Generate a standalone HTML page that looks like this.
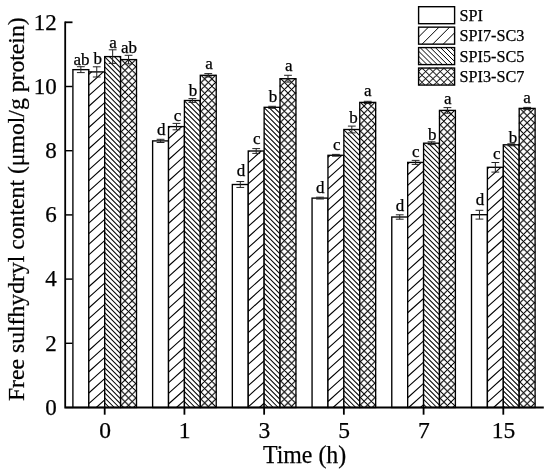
<!DOCTYPE html><html><head><meta charset="utf-8"><title>Free sulfhydryl content</title><style>html,body{margin:0;padding:0;background:#fff;}svg{display:block;}text{font-family:"Liberation Serif","Times New Roman",serif;fill:#000;stroke:#000;stroke-width:0.25px;}</style></head><body>
<svg width="550" height="472" viewBox="0 0 550 472">
<rect width="550" height="472" fill="#fff"/>
<rect x="72.90" y="69.65" width="15.90" height="337.85" fill="#fff"/>
<rect x="72.90" y="69.65" width="15.90" height="337.85" fill="none" stroke="#000" stroke-width="1.35"/>
<rect x="88.80" y="71.90" width="15.90" height="335.60" fill="#fff"/>
<path d="M88.80,74.38L91.56,71.90M88.80,85.00L103.36,71.90M88.80,95.62L104.70,81.31M88.80,106.24L104.70,91.93M88.80,116.86L104.70,102.55M88.80,127.48L104.70,113.17M88.80,138.10L104.70,123.79M88.80,148.72L104.70,134.41M88.80,159.34L104.70,145.03M88.80,169.96L104.70,155.65M88.80,180.58L104.70,166.27M88.80,191.20L104.70,176.89M88.80,201.82L104.70,187.51M88.80,212.44L104.70,198.13M88.80,223.06L104.70,208.75M88.80,233.68L104.70,219.37M88.80,244.30L104.70,229.99M88.80,254.92L104.70,240.61M88.80,265.54L104.70,251.23M88.80,276.16L104.70,261.85M88.80,286.78L104.70,272.47M88.80,297.40L104.70,283.09M88.80,308.02L104.70,293.71M88.80,318.64L104.70,304.33M88.80,329.26L104.70,314.95M88.80,339.88L104.70,325.57M88.80,350.50L104.70,336.19M88.80,361.12L104.70,346.81M88.80,371.74L104.70,357.43M88.80,382.36L104.70,368.05M88.80,392.98L104.70,378.67M88.80,403.60L104.70,389.29M96.27,407.50L104.70,399.91" stroke="#000" stroke-width="1.1" fill="none"/>
<rect x="88.80" y="71.90" width="15.90" height="335.60" fill="none" stroke="#000" stroke-width="1.35"/>
<rect x="104.70" y="56.60" width="15.90" height="350.90" fill="#fff"/>
<path d="M119.44,56.60L120.60,57.76M114.43,56.60L120.60,62.77M109.42,56.60L120.60,67.78M104.70,56.90L120.60,72.80M104.70,61.91L120.60,77.81M104.70,66.93L120.60,82.83M104.70,71.94L120.60,87.84M104.70,76.96L120.60,92.86M104.70,81.97L120.60,97.88M104.70,86.99L120.60,102.89M104.70,92.00L120.60,107.91M104.70,97.02L120.60,112.92M104.70,102.03L120.60,117.94M104.70,107.05L120.60,122.95M104.70,112.06L120.60,127.97M104.70,117.08L120.60,132.98M104.70,122.09L120.60,138.00M104.70,127.11L120.60,143.01M104.70,132.12L120.60,148.03M104.70,137.14L120.60,153.04M104.70,142.16L120.60,158.06M104.70,147.17L120.60,163.07M104.70,152.19L120.60,168.09M104.70,157.20L120.60,173.10M104.70,162.22L120.60,178.12M104.70,167.23L120.60,183.13M104.70,172.25L120.60,188.15M104.70,177.26L120.60,193.16M104.70,182.27L120.60,198.17M104.70,187.29L120.60,203.19M104.70,192.31L120.60,208.21M104.70,197.32L120.60,213.22M104.70,202.34L120.60,218.24M104.70,207.35L120.60,223.25M104.70,212.37L120.60,228.27M104.70,217.38L120.60,233.28M104.70,222.39L120.60,238.29M104.70,227.41L120.60,243.31M104.70,232.42L120.60,248.32M104.70,237.44L120.60,253.34M104.70,242.45L120.60,258.36M104.70,247.47L120.60,263.37M104.70,252.48L120.60,268.38M104.70,257.50L120.60,273.40M104.70,262.51L120.60,278.41M104.70,267.53L120.60,283.43M104.70,272.54L120.60,288.44M104.70,277.56L120.60,293.46M104.70,282.57L120.60,298.48M104.70,287.59L120.60,303.49M104.70,292.60L120.60,308.50M104.70,297.62L120.60,313.52M104.70,302.63L120.60,318.53M104.70,307.65L120.60,323.55M104.70,312.66L120.60,328.56M104.70,317.68L120.60,333.58M104.70,322.69L120.60,338.59M104.70,327.71L120.60,343.61M104.70,332.72L120.60,348.62M104.70,337.74L120.60,353.64M104.70,342.75L120.60,358.65M104.70,347.77L120.60,363.67M104.70,352.78L120.60,368.68M104.70,357.80L120.60,373.70M104.70,362.81L120.60,378.71M104.70,367.83L120.60,383.73M104.70,372.84L120.60,388.75M104.70,377.86L120.60,393.76M104.70,382.87L120.60,398.77M104.70,387.89L120.60,403.79M104.70,392.90L119.30,407.50M104.70,397.92L114.28,407.50M104.70,402.93L109.27,407.50" stroke="#000" stroke-width="1.05" fill="none"/>
<rect x="104.70" y="56.60" width="15.90" height="350.90" fill="none" stroke="#000" stroke-width="1.35"/>
<rect x="120.60" y="59.60" width="15.90" height="347.90" fill="#fff"/>
<path d="M120.60,60.35L121.35,59.60M120.60,67.55L128.55,59.60M120.60,74.75L135.75,59.60M120.60,81.95L136.50,66.05M120.60,89.15L136.50,73.25M120.60,96.35L136.50,80.45M120.60,103.55L136.50,87.65M120.60,110.75L136.50,94.85M120.60,117.95L136.50,102.05M120.60,125.15L136.50,109.25M120.60,132.35L136.50,116.45M120.60,139.55L136.50,123.65M120.60,146.75L136.50,130.85M120.60,153.95L136.50,138.05M120.60,161.15L136.50,145.25M120.60,168.35L136.50,152.45M120.60,175.55L136.50,159.65M120.60,182.75L136.50,166.85M120.60,189.95L136.50,174.05M120.60,197.15L136.50,181.25M120.60,204.35L136.50,188.45M120.60,211.55L136.50,195.65M120.60,218.75L136.50,202.85M120.60,225.95L136.50,210.05M120.60,233.15L136.50,217.25M120.60,240.35L136.50,224.45M120.60,247.55L136.50,231.65M120.60,254.75L136.50,238.85M120.60,261.95L136.50,246.05M120.60,269.15L136.50,253.25M120.60,276.35L136.50,260.45M120.60,283.55L136.50,267.65M120.60,290.75L136.50,274.85M120.60,297.95L136.50,282.05M120.60,305.15L136.50,289.25M120.60,312.35L136.50,296.45M120.60,319.55L136.50,303.65M120.60,326.75L136.50,310.85M120.60,333.95L136.50,318.05M120.60,341.15L136.50,325.25M120.60,348.35L136.50,332.45M120.60,355.55L136.50,339.65M120.60,362.75L136.50,346.85M120.60,369.95L136.50,354.05M120.60,377.15L136.50,361.25M120.60,384.35L136.50,368.45M120.60,391.55L136.50,375.65M120.60,398.75L136.50,382.85M120.60,405.95L136.50,390.05M126.25,407.50L136.50,397.25M133.45,407.50L136.50,404.45M135.75,59.60L136.50,60.35M128.55,59.60L136.50,67.55M121.35,59.60L136.50,74.75M120.60,66.05L136.50,81.95M120.60,73.25L136.50,89.15M120.60,80.45L136.50,96.35M120.60,87.65L136.50,103.55M120.60,94.85L136.50,110.75M120.60,102.05L136.50,117.95M120.60,109.25L136.50,125.15M120.60,116.45L136.50,132.35M120.60,123.65L136.50,139.55M120.60,130.85L136.50,146.75M120.60,138.05L136.50,153.95M120.60,145.25L136.50,161.15M120.60,152.45L136.50,168.35M120.60,159.65L136.50,175.55M120.60,166.85L136.50,182.75M120.60,174.05L136.50,189.95M120.60,181.25L136.50,197.15M120.60,188.45L136.50,204.35M120.60,195.65L136.50,211.55M120.60,202.85L136.50,218.75M120.60,210.05L136.50,225.95M120.60,217.25L136.50,233.15M120.60,224.45L136.50,240.35M120.60,231.65L136.50,247.55M120.60,238.85L136.50,254.75M120.60,246.05L136.50,261.95M120.60,253.25L136.50,269.15M120.60,260.45L136.50,276.35M120.60,267.65L136.50,283.55M120.60,274.85L136.50,290.75M120.60,282.05L136.50,297.95M120.60,289.25L136.50,305.15M120.60,296.45L136.50,312.35M120.60,303.65L136.50,319.55M120.60,310.85L136.50,326.75M120.60,318.05L136.50,333.95M120.60,325.25L136.50,341.15M120.60,332.45L136.50,348.35M120.60,339.65L136.50,355.55M120.60,346.85L136.50,362.75M120.60,354.05L136.50,369.95M120.60,361.25L136.50,377.15M120.60,368.45L136.50,384.35M120.60,375.65L136.50,391.55M120.60,382.85L136.50,398.75M120.60,390.05L136.50,405.95M120.60,397.25L130.85,407.50M120.60,404.45L123.65,407.50" stroke="#000" stroke-opacity="0.35" stroke-width="1.8" fill="none"/>
<path d="M120.60,60.35L121.35,59.60M120.60,67.55L128.55,59.60M120.60,74.75L135.75,59.60M120.60,81.95L136.50,66.05M120.60,89.15L136.50,73.25M120.60,96.35L136.50,80.45M120.60,103.55L136.50,87.65M120.60,110.75L136.50,94.85M120.60,117.95L136.50,102.05M120.60,125.15L136.50,109.25M120.60,132.35L136.50,116.45M120.60,139.55L136.50,123.65M120.60,146.75L136.50,130.85M120.60,153.95L136.50,138.05M120.60,161.15L136.50,145.25M120.60,168.35L136.50,152.45M120.60,175.55L136.50,159.65M120.60,182.75L136.50,166.85M120.60,189.95L136.50,174.05M120.60,197.15L136.50,181.25M120.60,204.35L136.50,188.45M120.60,211.55L136.50,195.65M120.60,218.75L136.50,202.85M120.60,225.95L136.50,210.05M120.60,233.15L136.50,217.25M120.60,240.35L136.50,224.45M120.60,247.55L136.50,231.65M120.60,254.75L136.50,238.85M120.60,261.95L136.50,246.05M120.60,269.15L136.50,253.25M120.60,276.35L136.50,260.45M120.60,283.55L136.50,267.65M120.60,290.75L136.50,274.85M120.60,297.95L136.50,282.05M120.60,305.15L136.50,289.25M120.60,312.35L136.50,296.45M120.60,319.55L136.50,303.65M120.60,326.75L136.50,310.85M120.60,333.95L136.50,318.05M120.60,341.15L136.50,325.25M120.60,348.35L136.50,332.45M120.60,355.55L136.50,339.65M120.60,362.75L136.50,346.85M120.60,369.95L136.50,354.05M120.60,377.15L136.50,361.25M120.60,384.35L136.50,368.45M120.60,391.55L136.50,375.65M120.60,398.75L136.50,382.85M120.60,405.95L136.50,390.05M126.25,407.50L136.50,397.25M133.45,407.50L136.50,404.45M135.75,59.60L136.50,60.35M128.55,59.60L136.50,67.55M121.35,59.60L136.50,74.75M120.60,66.05L136.50,81.95M120.60,73.25L136.50,89.15M120.60,80.45L136.50,96.35M120.60,87.65L136.50,103.55M120.60,94.85L136.50,110.75M120.60,102.05L136.50,117.95M120.60,109.25L136.50,125.15M120.60,116.45L136.50,132.35M120.60,123.65L136.50,139.55M120.60,130.85L136.50,146.75M120.60,138.05L136.50,153.95M120.60,145.25L136.50,161.15M120.60,152.45L136.50,168.35M120.60,159.65L136.50,175.55M120.60,166.85L136.50,182.75M120.60,174.05L136.50,189.95M120.60,181.25L136.50,197.15M120.60,188.45L136.50,204.35M120.60,195.65L136.50,211.55M120.60,202.85L136.50,218.75M120.60,210.05L136.50,225.95M120.60,217.25L136.50,233.15M120.60,224.45L136.50,240.35M120.60,231.65L136.50,247.55M120.60,238.85L136.50,254.75M120.60,246.05L136.50,261.95M120.60,253.25L136.50,269.15M120.60,260.45L136.50,276.35M120.60,267.65L136.50,283.55M120.60,274.85L136.50,290.75M120.60,282.05L136.50,297.95M120.60,289.25L136.50,305.15M120.60,296.45L136.50,312.35M120.60,303.65L136.50,319.55M120.60,310.85L136.50,326.75M120.60,318.05L136.50,333.95M120.60,325.25L136.50,341.15M120.60,332.45L136.50,348.35M120.60,339.65L136.50,355.55M120.60,346.85L136.50,362.75M120.60,354.05L136.50,369.95M120.60,361.25L136.50,377.15M120.60,368.45L136.50,384.35M120.60,375.65L136.50,391.55M120.60,382.85L136.50,398.75M120.60,390.05L136.50,405.95M120.60,397.25L130.85,407.50M120.60,404.45L123.65,407.50" stroke="#000" stroke-width="0.95" fill="none"/>
<rect x="120.60" y="59.60" width="15.90" height="347.90" fill="none" stroke="#000" stroke-width="1.35"/>
<rect x="152.62" y="140.90" width="15.90" height="266.60" fill="#fff"/>
<rect x="152.62" y="140.90" width="15.90" height="266.60" fill="none" stroke="#000" stroke-width="1.35"/>
<rect x="168.52" y="126.60" width="15.90" height="280.90" fill="#fff"/>
<path d="M168.52,127.91L169.98,126.60M168.52,138.53L181.78,126.60M168.52,149.15L184.42,134.84M168.52,159.77L184.42,145.46M168.52,170.39L184.42,156.08M168.52,181.01L184.42,166.70M168.52,191.63L184.42,177.32M168.52,202.25L184.42,187.94M168.52,212.87L184.42,198.56M168.52,223.49L184.42,209.18M168.52,234.11L184.42,219.80M168.52,244.73L184.42,230.42M168.52,255.35L184.42,241.04M168.52,265.97L184.42,251.66M168.52,276.59L184.42,262.28M168.52,287.21L184.42,272.90M168.52,297.83L184.42,283.52M168.52,308.45L184.42,294.14M168.52,319.07L184.42,304.76M168.52,329.69L184.42,315.38M168.52,340.31L184.42,326.00M168.52,350.93L184.42,336.62M168.52,361.55L184.42,347.24M168.52,372.17L184.42,357.86M168.52,382.79L184.42,368.48M168.52,393.41L184.42,379.10M168.52,404.03L184.42,389.72M176.47,407.50L184.42,400.34" stroke="#000" stroke-width="1.1" fill="none"/>
<rect x="168.52" y="126.60" width="15.90" height="280.90" fill="none" stroke="#000" stroke-width="1.35"/>
<rect x="184.42" y="100.50" width="15.90" height="307.00" fill="#fff"/>
<path d="M199.17,100.50L200.32,101.66M194.15,100.50L200.32,106.67M189.14,100.50L200.32,111.69M184.42,100.80L200.32,116.70M184.42,105.81L200.32,121.72M184.42,110.83L200.32,126.73M184.42,115.84L200.32,131.75M184.42,120.86L200.32,136.76M184.42,125.88L200.32,141.78M184.42,130.89L200.32,146.79M184.42,135.91L200.32,151.81M184.42,140.92L200.32,156.82M184.42,145.94L200.32,161.84M184.42,150.95L200.32,166.85M184.42,155.97L200.32,171.87M184.42,160.98L200.32,176.88M184.42,166.00L200.32,181.90M184.42,171.01L200.32,186.91M184.42,176.02L200.32,191.92M184.42,181.04L200.32,196.94M184.42,186.06L200.32,201.96M184.42,191.07L200.32,206.97M184.42,196.08L200.32,211.98M184.42,201.10L200.32,217.00M184.42,206.12L200.32,222.02M184.42,211.13L200.32,227.03M184.42,216.14L200.32,232.04M184.42,221.16L200.32,237.06M184.42,226.17L200.32,242.07M184.42,231.19L200.32,247.09M184.42,236.20L200.32,252.10M184.42,241.22L200.32,257.12M184.42,246.24L200.32,262.13M184.42,251.25L200.32,267.15M184.42,256.26L200.32,272.16M184.42,261.28L200.32,277.18M184.42,266.29L200.32,282.19M184.42,271.31L200.32,287.21M184.42,276.32L200.32,292.23M184.42,281.34L200.32,297.24M184.42,286.35L200.32,302.25M184.42,291.37L200.32,307.27M184.42,296.38L200.32,312.28M184.42,301.40L200.32,317.30M184.42,306.41L200.32,322.31M184.42,311.43L200.32,327.33M184.42,316.44L200.32,332.35M184.42,321.46L200.32,337.36M184.42,326.47L200.32,342.38M184.42,331.49L200.32,347.39M184.42,336.50L200.32,352.40M184.42,341.52L200.32,357.42M184.42,346.53L200.32,362.43M184.42,351.55L200.32,367.45M184.42,356.56L200.32,372.47M184.42,361.58L200.32,377.48M184.42,366.59L200.32,382.50M184.42,371.61L200.32,387.51M184.42,376.62L200.32,392.52M184.42,381.64L200.32,397.54M184.42,386.65L200.32,402.55M184.42,391.67L200.25,407.50M184.42,396.69L195.24,407.50M184.42,401.70L190.22,407.50M184.42,406.71L185.21,407.50" stroke="#000" stroke-width="1.05" fill="none"/>
<rect x="184.42" y="100.50" width="15.90" height="307.00" fill="none" stroke="#000" stroke-width="1.35"/>
<rect x="200.32" y="75.30" width="15.90" height="332.20" fill="#fff"/>
<path d="M200.32,76.05L201.07,75.30M200.32,83.25L208.27,75.30M200.32,90.45L215.47,75.30M200.32,97.65L216.22,81.75M200.32,104.85L216.22,88.95M200.32,112.05L216.22,96.15M200.32,119.25L216.22,103.35M200.32,126.45L216.22,110.55M200.32,133.65L216.22,117.75M200.32,140.85L216.22,124.95M200.32,148.05L216.22,132.15M200.32,155.25L216.22,139.35M200.32,162.45L216.22,146.55M200.32,169.65L216.22,153.75M200.32,176.85L216.22,160.95M200.32,184.05L216.22,168.15M200.32,191.25L216.22,175.35M200.32,198.45L216.22,182.55M200.32,205.65L216.22,189.75M200.32,212.85L216.22,196.95M200.32,220.05L216.22,204.15M200.32,227.25L216.22,211.35M200.32,234.45L216.22,218.55M200.32,241.65L216.22,225.75M200.32,248.85L216.22,232.95M200.32,256.05L216.22,240.15M200.32,263.25L216.22,247.35M200.32,270.45L216.22,254.55M200.32,277.65L216.22,261.75M200.32,284.85L216.22,268.95M200.32,292.05L216.22,276.15M200.32,299.25L216.22,283.35M200.32,306.45L216.22,290.55M200.32,313.65L216.22,297.75M200.32,320.85L216.22,304.95M200.32,328.05L216.22,312.15M200.32,335.25L216.22,319.35M200.32,342.45L216.22,326.55M200.32,349.65L216.22,333.75M200.32,356.85L216.22,340.95M200.32,364.05L216.22,348.15M200.32,371.25L216.22,355.35M200.32,378.45L216.22,362.55M200.32,385.65L216.22,369.75M200.32,392.85L216.22,376.95M200.32,400.05L216.22,384.15M200.32,407.25L216.22,391.35M207.27,407.50L216.22,398.55M214.47,407.50L216.22,405.75M215.47,75.30L216.22,76.05M208.27,75.30L216.22,83.25M201.07,75.30L216.22,90.45M200.32,81.75L216.22,97.65M200.32,88.95L216.22,104.85M200.32,96.15L216.22,112.05M200.32,103.35L216.22,119.25M200.32,110.55L216.22,126.45M200.32,117.75L216.22,133.65M200.32,124.95L216.22,140.85M200.32,132.15L216.22,148.05M200.32,139.35L216.22,155.25M200.32,146.55L216.22,162.45M200.32,153.75L216.22,169.65M200.32,160.95L216.22,176.85M200.32,168.15L216.22,184.05M200.32,175.35L216.22,191.25M200.32,182.55L216.22,198.45M200.32,189.75L216.22,205.65M200.32,196.95L216.22,212.85M200.32,204.15L216.22,220.05M200.32,211.35L216.22,227.25M200.32,218.55L216.22,234.45M200.32,225.75L216.22,241.65M200.32,232.95L216.22,248.85M200.32,240.15L216.22,256.05M200.32,247.35L216.22,263.25M200.32,254.55L216.22,270.45M200.32,261.75L216.22,277.65M200.32,268.95L216.22,284.85M200.32,276.15L216.22,292.05M200.32,283.35L216.22,299.25M200.32,290.55L216.22,306.45M200.32,297.75L216.22,313.65M200.32,304.95L216.22,320.85M200.32,312.15L216.22,328.05M200.32,319.35L216.22,335.25M200.32,326.55L216.22,342.45M200.32,333.75L216.22,349.65M200.32,340.95L216.22,356.85M200.32,348.15L216.22,364.05M200.32,355.35L216.22,371.25M200.32,362.55L216.22,378.45M200.32,369.75L216.22,385.65M200.32,376.95L216.22,392.85M200.32,384.15L216.22,400.05M200.32,391.35L216.22,407.25M200.32,398.55L209.27,407.50M200.32,405.75L202.07,407.50" stroke="#000" stroke-opacity="0.35" stroke-width="1.8" fill="none"/>
<path d="M200.32,76.05L201.07,75.30M200.32,83.25L208.27,75.30M200.32,90.45L215.47,75.30M200.32,97.65L216.22,81.75M200.32,104.85L216.22,88.95M200.32,112.05L216.22,96.15M200.32,119.25L216.22,103.35M200.32,126.45L216.22,110.55M200.32,133.65L216.22,117.75M200.32,140.85L216.22,124.95M200.32,148.05L216.22,132.15M200.32,155.25L216.22,139.35M200.32,162.45L216.22,146.55M200.32,169.65L216.22,153.75M200.32,176.85L216.22,160.95M200.32,184.05L216.22,168.15M200.32,191.25L216.22,175.35M200.32,198.45L216.22,182.55M200.32,205.65L216.22,189.75M200.32,212.85L216.22,196.95M200.32,220.05L216.22,204.15M200.32,227.25L216.22,211.35M200.32,234.45L216.22,218.55M200.32,241.65L216.22,225.75M200.32,248.85L216.22,232.95M200.32,256.05L216.22,240.15M200.32,263.25L216.22,247.35M200.32,270.45L216.22,254.55M200.32,277.65L216.22,261.75M200.32,284.85L216.22,268.95M200.32,292.05L216.22,276.15M200.32,299.25L216.22,283.35M200.32,306.45L216.22,290.55M200.32,313.65L216.22,297.75M200.32,320.85L216.22,304.95M200.32,328.05L216.22,312.15M200.32,335.25L216.22,319.35M200.32,342.45L216.22,326.55M200.32,349.65L216.22,333.75M200.32,356.85L216.22,340.95M200.32,364.05L216.22,348.15M200.32,371.25L216.22,355.35M200.32,378.45L216.22,362.55M200.32,385.65L216.22,369.75M200.32,392.85L216.22,376.95M200.32,400.05L216.22,384.15M200.32,407.25L216.22,391.35M207.27,407.50L216.22,398.55M214.47,407.50L216.22,405.75M215.47,75.30L216.22,76.05M208.27,75.30L216.22,83.25M201.07,75.30L216.22,90.45M200.32,81.75L216.22,97.65M200.32,88.95L216.22,104.85M200.32,96.15L216.22,112.05M200.32,103.35L216.22,119.25M200.32,110.55L216.22,126.45M200.32,117.75L216.22,133.65M200.32,124.95L216.22,140.85M200.32,132.15L216.22,148.05M200.32,139.35L216.22,155.25M200.32,146.55L216.22,162.45M200.32,153.75L216.22,169.65M200.32,160.95L216.22,176.85M200.32,168.15L216.22,184.05M200.32,175.35L216.22,191.25M200.32,182.55L216.22,198.45M200.32,189.75L216.22,205.65M200.32,196.95L216.22,212.85M200.32,204.15L216.22,220.05M200.32,211.35L216.22,227.25M200.32,218.55L216.22,234.45M200.32,225.75L216.22,241.65M200.32,232.95L216.22,248.85M200.32,240.15L216.22,256.05M200.32,247.35L216.22,263.25M200.32,254.55L216.22,270.45M200.32,261.75L216.22,277.65M200.32,268.95L216.22,284.85M200.32,276.15L216.22,292.05M200.32,283.35L216.22,299.25M200.32,290.55L216.22,306.45M200.32,297.75L216.22,313.65M200.32,304.95L216.22,320.85M200.32,312.15L216.22,328.05M200.32,319.35L216.22,335.25M200.32,326.55L216.22,342.45M200.32,333.75L216.22,349.65M200.32,340.95L216.22,356.85M200.32,348.15L216.22,364.05M200.32,355.35L216.22,371.25M200.32,362.55L216.22,378.45M200.32,369.75L216.22,385.65M200.32,376.95L216.22,392.85M200.32,384.15L216.22,400.05M200.32,391.35L216.22,407.25M200.32,398.55L209.27,407.50M200.32,405.75L202.07,407.50" stroke="#000" stroke-width="0.95" fill="none"/>
<rect x="200.32" y="75.30" width="15.90" height="332.20" fill="none" stroke="#000" stroke-width="1.35"/>
<rect x="232.34" y="184.50" width="15.90" height="223.00" fill="#fff"/>
<rect x="232.34" y="184.50" width="15.90" height="223.00" fill="none" stroke="#000" stroke-width="1.35"/>
<rect x="248.24" y="151.00" width="15.90" height="256.50" fill="#fff"/>
<path d="M248.24,152.04L249.40,151.00M248.24,162.66L261.20,151.00M248.24,173.28L264.14,158.97M248.24,183.90L264.14,169.59M248.24,194.52L264.14,180.21M248.24,205.14L264.14,190.83M248.24,215.76L264.14,201.45M248.24,226.38L264.14,212.07M248.24,237.00L264.14,222.69M248.24,247.62L264.14,233.31M248.24,258.24L264.14,243.93M248.24,268.86L264.14,254.55M248.24,279.48L264.14,265.17M248.24,290.10L264.14,275.79M248.24,300.72L264.14,286.41M248.24,311.34L264.14,297.03M248.24,321.96L264.14,307.65M248.24,332.58L264.14,318.27M248.24,343.20L264.14,328.89M248.24,353.82L264.14,339.51M248.24,364.44L264.14,350.13M248.24,375.06L264.14,360.75M248.24,385.68L264.14,371.37M248.24,396.30L264.14,381.99M248.24,406.92L264.14,392.61M259.40,407.50L264.14,403.23" stroke="#000" stroke-width="1.1" fill="none"/>
<rect x="248.24" y="151.00" width="15.90" height="256.50" fill="none" stroke="#000" stroke-width="1.35"/>
<rect x="264.14" y="107.30" width="15.90" height="300.20" fill="#fff"/>
<path d="M278.88,107.30L280.04,108.45M273.87,107.30L280.04,113.47M268.86,107.30L280.04,118.48M264.14,107.60L280.04,123.50M264.14,112.61L280.04,128.51M264.14,117.63L280.04,133.53M264.14,122.64L280.04,138.54M264.14,127.66L280.04,143.56M264.14,132.67L280.04,148.57M264.14,137.69L280.04,153.59M264.14,142.70L280.04,158.60M264.14,147.72L280.04,163.62M264.14,152.73L280.04,168.63M264.14,157.75L280.04,173.65M264.14,162.76L280.04,178.66M264.14,167.78L280.04,183.68M264.14,172.79L280.04,188.69M264.14,177.81L280.04,193.71M264.14,182.82L280.04,198.72M264.14,187.84L280.04,203.74M264.14,192.85L280.04,208.75M264.14,197.87L280.04,213.77M264.14,202.88L280.04,218.78M264.14,207.90L280.04,223.80M264.14,212.91L280.04,228.81M264.14,217.93L280.04,233.83M264.14,222.94L280.04,238.84M264.14,227.96L280.04,243.86M264.14,232.97L280.04,248.87M264.14,237.99L280.04,253.89M264.14,243.00L280.04,258.90M264.14,248.02L280.04,263.92M264.14,253.03L280.04,268.93M264.14,258.05L280.04,273.95M264.14,263.06L280.04,278.96M264.14,268.08L280.04,283.98M264.14,273.09L280.04,288.99M264.14,278.11L280.04,294.01M264.14,283.12L280.04,299.02M264.14,288.14L280.04,304.04M264.14,293.15L280.04,309.05M264.14,298.17L280.04,314.07M264.14,303.18L280.04,319.08M264.14,308.20L280.04,324.10M264.14,313.21L280.04,329.11M264.14,318.23L280.04,334.13M264.14,323.25L280.04,339.14M264.14,328.26L280.04,344.16M264.14,333.27L280.04,349.17M264.14,338.29L280.04,354.19M264.14,343.30L280.04,359.20M264.14,348.32L280.04,364.22M264.14,353.33L280.04,369.23M264.14,358.35L280.04,374.25M264.14,363.37L280.04,379.26M264.14,368.38L280.04,384.28M264.14,373.39L280.04,389.29M264.14,378.41L280.04,394.31M264.14,383.42L280.04,399.32M264.14,388.44L280.04,404.34M264.14,393.45L278.19,407.50M264.14,398.47L273.17,407.50M264.14,403.49L268.15,407.50" stroke="#000" stroke-width="1.05" fill="none"/>
<rect x="264.14" y="107.30" width="15.90" height="300.20" fill="none" stroke="#000" stroke-width="1.35"/>
<rect x="280.04" y="78.70" width="15.90" height="328.80" fill="#fff"/>
<path d="M280.04,79.45L280.79,78.70M280.04,86.65L287.99,78.70M280.04,93.85L295.19,78.70M280.04,101.05L295.94,85.15M280.04,108.25L295.94,92.35M280.04,115.45L295.94,99.55M280.04,122.65L295.94,106.75M280.04,129.85L295.94,113.95M280.04,137.05L295.94,121.15M280.04,144.25L295.94,128.35M280.04,151.45L295.94,135.55M280.04,158.65L295.94,142.75M280.04,165.85L295.94,149.95M280.04,173.05L295.94,157.15M280.04,180.25L295.94,164.35M280.04,187.45L295.94,171.55M280.04,194.65L295.94,178.75M280.04,201.85L295.94,185.95M280.04,209.05L295.94,193.15M280.04,216.25L295.94,200.35M280.04,223.45L295.94,207.55M280.04,230.65L295.94,214.75M280.04,237.85L295.94,221.95M280.04,245.05L295.94,229.15M280.04,252.25L295.94,236.35M280.04,259.45L295.94,243.55M280.04,266.65L295.94,250.75M280.04,273.85L295.94,257.95M280.04,281.05L295.94,265.15M280.04,288.25L295.94,272.35M280.04,295.45L295.94,279.55M280.04,302.65L295.94,286.75M280.04,309.85L295.94,293.95M280.04,317.05L295.94,301.15M280.04,324.25L295.94,308.35M280.04,331.45L295.94,315.55M280.04,338.65L295.94,322.75M280.04,345.85L295.94,329.95M280.04,353.05L295.94,337.15M280.04,360.25L295.94,344.35M280.04,367.45L295.94,351.55M280.04,374.65L295.94,358.75M280.04,381.85L295.94,365.95M280.04,389.05L295.94,373.15M280.04,396.25L295.94,380.35M280.04,403.45L295.94,387.55M283.19,407.50L295.94,394.75M290.39,407.50L295.94,401.95M295.19,78.70L295.94,79.45M287.99,78.70L295.94,86.65M280.79,78.70L295.94,93.85M280.04,85.15L295.94,101.05M280.04,92.35L295.94,108.25M280.04,99.55L295.94,115.45M280.04,106.75L295.94,122.65M280.04,113.95L295.94,129.85M280.04,121.15L295.94,137.05M280.04,128.35L295.94,144.25M280.04,135.55L295.94,151.45M280.04,142.75L295.94,158.65M280.04,149.95L295.94,165.85M280.04,157.15L295.94,173.05M280.04,164.35L295.94,180.25M280.04,171.55L295.94,187.45M280.04,178.75L295.94,194.65M280.04,185.95L295.94,201.85M280.04,193.15L295.94,209.05M280.04,200.35L295.94,216.25M280.04,207.55L295.94,223.45M280.04,214.75L295.94,230.65M280.04,221.95L295.94,237.85M280.04,229.15L295.94,245.05M280.04,236.35L295.94,252.25M280.04,243.55L295.94,259.45M280.04,250.75L295.94,266.65M280.04,257.95L295.94,273.85M280.04,265.15L295.94,281.05M280.04,272.35L295.94,288.25M280.04,279.55L295.94,295.45M280.04,286.75L295.94,302.65M280.04,293.95L295.94,309.85M280.04,301.15L295.94,317.05M280.04,308.35L295.94,324.25M280.04,315.55L295.94,331.45M280.04,322.75L295.94,338.65M280.04,329.95L295.94,345.85M280.04,337.15L295.94,353.05M280.04,344.35L295.94,360.25M280.04,351.55L295.94,367.45M280.04,358.75L295.94,374.65M280.04,365.95L295.94,381.85M280.04,373.15L295.94,389.05M280.04,380.35L295.94,396.25M280.04,387.55L295.94,403.45M280.04,394.75L292.79,407.50M280.04,401.95L285.59,407.50" stroke="#000" stroke-opacity="0.35" stroke-width="1.8" fill="none"/>
<path d="M280.04,79.45L280.79,78.70M280.04,86.65L287.99,78.70M280.04,93.85L295.19,78.70M280.04,101.05L295.94,85.15M280.04,108.25L295.94,92.35M280.04,115.45L295.94,99.55M280.04,122.65L295.94,106.75M280.04,129.85L295.94,113.95M280.04,137.05L295.94,121.15M280.04,144.25L295.94,128.35M280.04,151.45L295.94,135.55M280.04,158.65L295.94,142.75M280.04,165.85L295.94,149.95M280.04,173.05L295.94,157.15M280.04,180.25L295.94,164.35M280.04,187.45L295.94,171.55M280.04,194.65L295.94,178.75M280.04,201.85L295.94,185.95M280.04,209.05L295.94,193.15M280.04,216.25L295.94,200.35M280.04,223.45L295.94,207.55M280.04,230.65L295.94,214.75M280.04,237.85L295.94,221.95M280.04,245.05L295.94,229.15M280.04,252.25L295.94,236.35M280.04,259.45L295.94,243.55M280.04,266.65L295.94,250.75M280.04,273.85L295.94,257.95M280.04,281.05L295.94,265.15M280.04,288.25L295.94,272.35M280.04,295.45L295.94,279.55M280.04,302.65L295.94,286.75M280.04,309.85L295.94,293.95M280.04,317.05L295.94,301.15M280.04,324.25L295.94,308.35M280.04,331.45L295.94,315.55M280.04,338.65L295.94,322.75M280.04,345.85L295.94,329.95M280.04,353.05L295.94,337.15M280.04,360.25L295.94,344.35M280.04,367.45L295.94,351.55M280.04,374.65L295.94,358.75M280.04,381.85L295.94,365.95M280.04,389.05L295.94,373.15M280.04,396.25L295.94,380.35M280.04,403.45L295.94,387.55M283.19,407.50L295.94,394.75M290.39,407.50L295.94,401.95M295.19,78.70L295.94,79.45M287.99,78.70L295.94,86.65M280.79,78.70L295.94,93.85M280.04,85.15L295.94,101.05M280.04,92.35L295.94,108.25M280.04,99.55L295.94,115.45M280.04,106.75L295.94,122.65M280.04,113.95L295.94,129.85M280.04,121.15L295.94,137.05M280.04,128.35L295.94,144.25M280.04,135.55L295.94,151.45M280.04,142.75L295.94,158.65M280.04,149.95L295.94,165.85M280.04,157.15L295.94,173.05M280.04,164.35L295.94,180.25M280.04,171.55L295.94,187.45M280.04,178.75L295.94,194.65M280.04,185.95L295.94,201.85M280.04,193.15L295.94,209.05M280.04,200.35L295.94,216.25M280.04,207.55L295.94,223.45M280.04,214.75L295.94,230.65M280.04,221.95L295.94,237.85M280.04,229.15L295.94,245.05M280.04,236.35L295.94,252.25M280.04,243.55L295.94,259.45M280.04,250.75L295.94,266.65M280.04,257.95L295.94,273.85M280.04,265.15L295.94,281.05M280.04,272.35L295.94,288.25M280.04,279.55L295.94,295.45M280.04,286.75L295.94,302.65M280.04,293.95L295.94,309.85M280.04,301.15L295.94,317.05M280.04,308.35L295.94,324.25M280.04,315.55L295.94,331.45M280.04,322.75L295.94,338.65M280.04,329.95L295.94,345.85M280.04,337.15L295.94,353.05M280.04,344.35L295.94,360.25M280.04,351.55L295.94,367.45M280.04,358.75L295.94,374.65M280.04,365.95L295.94,381.85M280.04,373.15L295.94,389.05M280.04,380.35L295.94,396.25M280.04,387.55L295.94,403.45M280.04,394.75L292.79,407.50M280.04,401.95L285.59,407.50" stroke="#000" stroke-width="0.95" fill="none"/>
<rect x="280.04" y="78.70" width="15.90" height="328.80" fill="none" stroke="#000" stroke-width="1.35"/>
<rect x="312.06" y="198.10" width="15.90" height="209.40" fill="#fff"/>
<rect x="312.06" y="198.10" width="15.90" height="209.40" fill="none" stroke="#000" stroke-width="1.35"/>
<rect x="327.96" y="155.30" width="15.90" height="252.20" fill="#fff"/>
<path d="M327.96,157.22L330.09,155.30M327.96,167.84L341.89,155.30M327.96,178.46L343.86,164.15M327.96,189.08L343.86,174.77M327.96,199.70L343.86,185.39M327.96,210.32L343.86,196.01M327.96,220.94L343.86,206.63M327.96,231.56L343.86,217.25M327.96,242.18L343.86,227.87M327.96,252.80L343.86,238.49M327.96,263.42L343.86,249.11M327.96,274.04L343.86,259.73M327.96,284.66L343.86,270.35M327.96,295.28L343.86,280.97M327.96,305.90L343.86,291.59M327.96,316.52L343.86,302.21M327.96,327.14L343.86,312.83M327.96,337.76L343.86,323.45M327.96,348.38L343.86,334.07M327.96,359.00L343.86,344.69M327.96,369.62L343.86,355.31M327.96,380.24L343.86,365.93M327.96,390.86L343.86,376.55M327.96,401.48L343.86,387.17M333.07,407.50L343.86,397.79" stroke="#000" stroke-width="1.1" fill="none"/>
<rect x="327.96" y="155.30" width="15.90" height="252.20" fill="none" stroke="#000" stroke-width="1.35"/>
<rect x="343.86" y="129.50" width="15.90" height="278.00" fill="#fff"/>
<path d="M358.61,129.50L359.76,130.65M353.59,129.50L359.76,135.67M348.57,129.50L359.76,140.69M343.86,129.80L359.76,145.70M343.86,134.81L359.76,150.71M343.86,139.83L359.76,155.73M343.86,144.84L359.76,160.74M343.86,149.86L359.76,165.76M343.86,154.88L359.76,170.77M343.86,159.89L359.76,175.79M343.86,164.91L359.76,180.80M343.86,169.92L359.76,185.82M343.86,174.94L359.76,190.83M343.86,179.95L359.76,195.85M343.86,184.97L359.76,200.86M343.86,189.98L359.76,205.88M343.86,195.00L359.76,210.89M343.86,200.01L359.76,215.91M343.86,205.03L359.76,220.92M343.86,210.04L359.76,225.94M343.86,215.06L359.76,230.95M343.86,220.07L359.76,235.97M343.86,225.09L359.76,240.98M343.86,230.10L359.76,246.00M343.86,235.12L359.76,251.01M343.86,240.13L359.76,256.03M343.86,245.15L359.76,261.04M343.86,250.16L359.76,266.06M343.86,255.18L359.76,271.07M343.86,260.19L359.76,276.09M343.86,265.21L359.76,281.11M343.86,270.22L359.76,286.12M343.86,275.24L359.76,291.13M343.86,280.25L359.76,296.15M343.86,285.26L359.76,301.16M343.86,290.28L359.76,306.18M343.86,295.29L359.76,311.19M343.86,300.31L359.76,316.21M343.86,305.32L359.76,321.22M343.86,310.34L359.76,326.24M343.86,315.36L359.76,331.25M343.86,320.37L359.76,336.27M343.86,325.38L359.76,341.28M343.86,330.40L359.76,346.30M343.86,335.41L359.76,351.31M343.86,340.43L359.76,356.33M343.86,345.44L359.76,361.34M343.86,350.46L359.76,366.36M343.86,355.48L359.76,371.38M343.86,360.49L359.76,376.39M343.86,365.50L359.76,381.40M343.86,370.52L359.76,386.42M343.86,375.53L359.76,391.43M343.86,380.55L359.76,396.45M343.86,385.56L359.76,401.46M343.86,390.58L359.76,406.48M343.86,395.59L355.77,407.50M343.86,400.61L350.75,407.50M343.86,405.62L345.74,407.50" stroke="#000" stroke-width="1.05" fill="none"/>
<rect x="343.86" y="129.50" width="15.90" height="278.00" fill="none" stroke="#000" stroke-width="1.35"/>
<rect x="359.76" y="102.40" width="15.90" height="305.10" fill="#fff"/>
<path d="M359.76,103.15L360.51,102.40M359.76,110.35L367.71,102.40M359.76,117.55L374.91,102.40M359.76,124.75L375.66,108.85M359.76,131.95L375.66,116.05M359.76,139.15L375.66,123.25M359.76,146.35L375.66,130.45M359.76,153.55L375.66,137.65M359.76,160.75L375.66,144.85M359.76,167.95L375.66,152.05M359.76,175.15L375.66,159.25M359.76,182.35L375.66,166.45M359.76,189.55L375.66,173.65M359.76,196.75L375.66,180.85M359.76,203.95L375.66,188.05M359.76,211.15L375.66,195.25M359.76,218.35L375.66,202.45M359.76,225.55L375.66,209.65M359.76,232.75L375.66,216.85M359.76,239.95L375.66,224.05M359.76,247.15L375.66,231.25M359.76,254.35L375.66,238.45M359.76,261.55L375.66,245.65M359.76,268.75L375.66,252.85M359.76,275.95L375.66,260.05M359.76,283.15L375.66,267.25M359.76,290.35L375.66,274.45M359.76,297.55L375.66,281.65M359.76,304.75L375.66,288.85M359.76,311.95L375.66,296.05M359.76,319.15L375.66,303.25M359.76,326.35L375.66,310.45M359.76,333.55L375.66,317.65M359.76,340.75L375.66,324.85M359.76,347.95L375.66,332.05M359.76,355.15L375.66,339.25M359.76,362.35L375.66,346.45M359.76,369.55L375.66,353.65M359.76,376.75L375.66,360.85M359.76,383.95L375.66,368.05M359.76,391.15L375.66,375.25M359.76,398.35L375.66,382.45M359.76,405.55L375.66,389.65M365.01,407.50L375.66,396.85M372.21,407.50L375.66,404.05M374.91,102.40L375.66,103.15M367.71,102.40L375.66,110.35M360.51,102.40L375.66,117.55M359.76,108.85L375.66,124.75M359.76,116.05L375.66,131.95M359.76,123.25L375.66,139.15M359.76,130.45L375.66,146.35M359.76,137.65L375.66,153.55M359.76,144.85L375.66,160.75M359.76,152.05L375.66,167.95M359.76,159.25L375.66,175.15M359.76,166.45L375.66,182.35M359.76,173.65L375.66,189.55M359.76,180.85L375.66,196.75M359.76,188.05L375.66,203.95M359.76,195.25L375.66,211.15M359.76,202.45L375.66,218.35M359.76,209.65L375.66,225.55M359.76,216.85L375.66,232.75M359.76,224.05L375.66,239.95M359.76,231.25L375.66,247.15M359.76,238.45L375.66,254.35M359.76,245.65L375.66,261.55M359.76,252.85L375.66,268.75M359.76,260.05L375.66,275.95M359.76,267.25L375.66,283.15M359.76,274.45L375.66,290.35M359.76,281.65L375.66,297.55M359.76,288.85L375.66,304.75M359.76,296.05L375.66,311.95M359.76,303.25L375.66,319.15M359.76,310.45L375.66,326.35M359.76,317.65L375.66,333.55M359.76,324.85L375.66,340.75M359.76,332.05L375.66,347.95M359.76,339.25L375.66,355.15M359.76,346.45L375.66,362.35M359.76,353.65L375.66,369.55M359.76,360.85L375.66,376.75M359.76,368.05L375.66,383.95M359.76,375.25L375.66,391.15M359.76,382.45L375.66,398.35M359.76,389.65L375.66,405.55M359.76,396.85L370.41,407.50M359.76,404.05L363.21,407.50" stroke="#000" stroke-opacity="0.35" stroke-width="1.8" fill="none"/>
<path d="M359.76,103.15L360.51,102.40M359.76,110.35L367.71,102.40M359.76,117.55L374.91,102.40M359.76,124.75L375.66,108.85M359.76,131.95L375.66,116.05M359.76,139.15L375.66,123.25M359.76,146.35L375.66,130.45M359.76,153.55L375.66,137.65M359.76,160.75L375.66,144.85M359.76,167.95L375.66,152.05M359.76,175.15L375.66,159.25M359.76,182.35L375.66,166.45M359.76,189.55L375.66,173.65M359.76,196.75L375.66,180.85M359.76,203.95L375.66,188.05M359.76,211.15L375.66,195.25M359.76,218.35L375.66,202.45M359.76,225.55L375.66,209.65M359.76,232.75L375.66,216.85M359.76,239.95L375.66,224.05M359.76,247.15L375.66,231.25M359.76,254.35L375.66,238.45M359.76,261.55L375.66,245.65M359.76,268.75L375.66,252.85M359.76,275.95L375.66,260.05M359.76,283.15L375.66,267.25M359.76,290.35L375.66,274.45M359.76,297.55L375.66,281.65M359.76,304.75L375.66,288.85M359.76,311.95L375.66,296.05M359.76,319.15L375.66,303.25M359.76,326.35L375.66,310.45M359.76,333.55L375.66,317.65M359.76,340.75L375.66,324.85M359.76,347.95L375.66,332.05M359.76,355.15L375.66,339.25M359.76,362.35L375.66,346.45M359.76,369.55L375.66,353.65M359.76,376.75L375.66,360.85M359.76,383.95L375.66,368.05M359.76,391.15L375.66,375.25M359.76,398.35L375.66,382.45M359.76,405.55L375.66,389.65M365.01,407.50L375.66,396.85M372.21,407.50L375.66,404.05M374.91,102.40L375.66,103.15M367.71,102.40L375.66,110.35M360.51,102.40L375.66,117.55M359.76,108.85L375.66,124.75M359.76,116.05L375.66,131.95M359.76,123.25L375.66,139.15M359.76,130.45L375.66,146.35M359.76,137.65L375.66,153.55M359.76,144.85L375.66,160.75M359.76,152.05L375.66,167.95M359.76,159.25L375.66,175.15M359.76,166.45L375.66,182.35M359.76,173.65L375.66,189.55M359.76,180.85L375.66,196.75M359.76,188.05L375.66,203.95M359.76,195.25L375.66,211.15M359.76,202.45L375.66,218.35M359.76,209.65L375.66,225.55M359.76,216.85L375.66,232.75M359.76,224.05L375.66,239.95M359.76,231.25L375.66,247.15M359.76,238.45L375.66,254.35M359.76,245.65L375.66,261.55M359.76,252.85L375.66,268.75M359.76,260.05L375.66,275.95M359.76,267.25L375.66,283.15M359.76,274.45L375.66,290.35M359.76,281.65L375.66,297.55M359.76,288.85L375.66,304.75M359.76,296.05L375.66,311.95M359.76,303.25L375.66,319.15M359.76,310.45L375.66,326.35M359.76,317.65L375.66,333.55M359.76,324.85L375.66,340.75M359.76,332.05L375.66,347.95M359.76,339.25L375.66,355.15M359.76,346.45L375.66,362.35M359.76,353.65L375.66,369.55M359.76,360.85L375.66,376.75M359.76,368.05L375.66,383.95M359.76,375.25L375.66,391.15M359.76,382.45L375.66,398.35M359.76,389.65L375.66,405.55M359.76,396.85L370.41,407.50M359.76,404.05L363.21,407.50" stroke="#000" stroke-width="0.95" fill="none"/>
<rect x="359.76" y="102.40" width="15.90" height="305.10" fill="none" stroke="#000" stroke-width="1.35"/>
<rect x="391.78" y="217.00" width="15.90" height="190.50" fill="#fff"/>
<rect x="391.78" y="217.00" width="15.90" height="190.50" fill="none" stroke="#000" stroke-width="1.35"/>
<rect x="407.68" y="162.40" width="15.90" height="245.10" fill="#fff"/>
<path d="M407.68,164.10L409.57,162.40M407.68,174.72L421.37,162.40M407.68,185.34L423.58,171.03M407.68,195.96L423.58,181.65M407.68,206.58L423.58,192.27M407.68,217.20L423.58,202.89M407.68,227.82L423.58,213.51M407.68,238.44L423.58,224.13M407.68,249.06L423.58,234.75M407.68,259.68L423.58,245.37M407.68,270.30L423.58,255.99M407.68,280.92L423.58,266.61M407.68,291.54L423.58,277.23M407.68,302.16L423.58,287.85M407.68,312.78L423.58,298.47M407.68,323.40L423.58,309.09M407.68,334.02L423.58,319.71M407.68,344.64L423.58,330.33M407.68,355.26L423.58,340.95M407.68,365.88L423.58,351.57M407.68,376.50L423.58,362.19M407.68,387.12L423.58,372.81M407.68,397.74L423.58,383.43M408.63,407.50L423.58,394.05M420.43,407.50L423.58,404.67" stroke="#000" stroke-width="1.1" fill="none"/>
<rect x="407.68" y="162.40" width="15.90" height="245.10" fill="none" stroke="#000" stroke-width="1.35"/>
<rect x="423.58" y="143.20" width="15.90" height="264.30" fill="#fff"/>
<path d="M438.32,143.20L439.48,144.35M433.31,143.20L439.48,149.37M428.29,143.20L439.48,154.38M423.58,143.50L439.48,159.40M423.58,148.51L439.48,164.41M423.58,153.53L439.48,169.43M423.58,158.54L439.48,174.44M423.58,163.56L439.48,179.46M423.58,168.57L439.48,184.47M423.58,173.59L439.48,189.49M423.58,178.60L439.48,194.50M423.58,183.62L439.48,199.52M423.58,188.63L439.48,204.53M423.58,193.65L439.48,209.55M423.58,198.66L439.48,214.56M423.58,203.68L439.48,219.58M423.58,208.69L439.48,224.59M423.58,213.71L439.48,229.61M423.58,218.72L439.48,234.62M423.58,223.74L439.48,239.64M423.58,228.75L439.48,244.65M423.58,233.77L439.48,249.67M423.58,238.78L439.48,254.68M423.58,243.80L439.48,259.70M423.58,248.81L439.48,264.71M423.58,253.83L439.48,269.73M423.58,258.85L439.48,274.75M423.58,263.86L439.48,279.76M423.58,268.88L439.48,284.77M423.58,273.89L439.48,289.79M423.58,278.90L439.48,294.80M423.58,283.92L439.48,299.82M423.58,288.94L439.48,304.83M423.58,293.95L439.48,309.85M423.58,298.97L439.48,314.87M423.58,303.98L439.48,319.88M423.58,309.00L439.48,324.89M423.58,314.01L439.48,329.91M423.58,319.02L439.48,334.92M423.58,324.04L439.48,339.94M423.58,329.05L439.48,344.95M423.58,334.07L439.48,349.97M423.58,339.08L439.48,354.98M423.58,344.10L439.48,360.00M423.58,349.12L439.48,365.01M423.58,354.13L439.48,370.03M423.58,359.14L439.48,375.04M423.58,364.16L439.48,380.06M423.58,369.17L439.48,385.07M423.58,374.19L439.48,390.09M423.58,379.20L439.48,395.10M423.58,384.22L439.48,400.12M423.58,389.24L439.48,405.13M423.58,394.25L436.83,407.50M423.58,399.26L431.81,407.50M423.58,404.28L426.80,407.50" stroke="#000" stroke-width="1.05" fill="none"/>
<rect x="423.58" y="143.20" width="15.90" height="264.30" fill="none" stroke="#000" stroke-width="1.35"/>
<rect x="439.48" y="110.40" width="15.90" height="297.10" fill="#fff"/>
<path d="M439.48,111.15L440.23,110.40M439.48,118.35L447.43,110.40M439.48,125.55L454.63,110.40M439.48,132.75L455.38,116.85M439.48,139.95L455.38,124.05M439.48,147.15L455.38,131.25M439.48,154.35L455.38,138.45M439.48,161.55L455.38,145.65M439.48,168.75L455.38,152.85M439.48,175.95L455.38,160.05M439.48,183.15L455.38,167.25M439.48,190.35L455.38,174.45M439.48,197.55L455.38,181.65M439.48,204.75L455.38,188.85M439.48,211.95L455.38,196.05M439.48,219.15L455.38,203.25M439.48,226.35L455.38,210.45M439.48,233.55L455.38,217.65M439.48,240.75L455.38,224.85M439.48,247.95L455.38,232.05M439.48,255.15L455.38,239.25M439.48,262.35L455.38,246.45M439.48,269.55L455.38,253.65M439.48,276.75L455.38,260.85M439.48,283.95L455.38,268.05M439.48,291.15L455.38,275.25M439.48,298.35L455.38,282.45M439.48,305.55L455.38,289.65M439.48,312.75L455.38,296.85M439.48,319.95L455.38,304.05M439.48,327.15L455.38,311.25M439.48,334.35L455.38,318.45M439.48,341.55L455.38,325.65M439.48,348.75L455.38,332.85M439.48,355.95L455.38,340.05M439.48,363.15L455.38,347.25M439.48,370.35L455.38,354.45M439.48,377.55L455.38,361.65M439.48,384.75L455.38,368.85M439.48,391.95L455.38,376.05M439.48,399.15L455.38,383.25M439.48,406.35L455.38,390.45M445.53,407.50L455.38,397.65M452.73,407.50L455.38,404.85M454.63,110.40L455.38,111.15M447.43,110.40L455.38,118.35M440.23,110.40L455.38,125.55M439.48,116.85L455.38,132.75M439.48,124.05L455.38,139.95M439.48,131.25L455.38,147.15M439.48,138.45L455.38,154.35M439.48,145.65L455.38,161.55M439.48,152.85L455.38,168.75M439.48,160.05L455.38,175.95M439.48,167.25L455.38,183.15M439.48,174.45L455.38,190.35M439.48,181.65L455.38,197.55M439.48,188.85L455.38,204.75M439.48,196.05L455.38,211.95M439.48,203.25L455.38,219.15M439.48,210.45L455.38,226.35M439.48,217.65L455.38,233.55M439.48,224.85L455.38,240.75M439.48,232.05L455.38,247.95M439.48,239.25L455.38,255.15M439.48,246.45L455.38,262.35M439.48,253.65L455.38,269.55M439.48,260.85L455.38,276.75M439.48,268.05L455.38,283.95M439.48,275.25L455.38,291.15M439.48,282.45L455.38,298.35M439.48,289.65L455.38,305.55M439.48,296.85L455.38,312.75M439.48,304.05L455.38,319.95M439.48,311.25L455.38,327.15M439.48,318.45L455.38,334.35M439.48,325.65L455.38,341.55M439.48,332.85L455.38,348.75M439.48,340.05L455.38,355.95M439.48,347.25L455.38,363.15M439.48,354.45L455.38,370.35M439.48,361.65L455.38,377.55M439.48,368.85L455.38,384.75M439.48,376.05L455.38,391.95M439.48,383.25L455.38,399.15M439.48,390.45L455.38,406.35M439.48,397.65L449.33,407.50M439.48,404.85L442.13,407.50" stroke="#000" stroke-opacity="0.35" stroke-width="1.8" fill="none"/>
<path d="M439.48,111.15L440.23,110.40M439.48,118.35L447.43,110.40M439.48,125.55L454.63,110.40M439.48,132.75L455.38,116.85M439.48,139.95L455.38,124.05M439.48,147.15L455.38,131.25M439.48,154.35L455.38,138.45M439.48,161.55L455.38,145.65M439.48,168.75L455.38,152.85M439.48,175.95L455.38,160.05M439.48,183.15L455.38,167.25M439.48,190.35L455.38,174.45M439.48,197.55L455.38,181.65M439.48,204.75L455.38,188.85M439.48,211.95L455.38,196.05M439.48,219.15L455.38,203.25M439.48,226.35L455.38,210.45M439.48,233.55L455.38,217.65M439.48,240.75L455.38,224.85M439.48,247.95L455.38,232.05M439.48,255.15L455.38,239.25M439.48,262.35L455.38,246.45M439.48,269.55L455.38,253.65M439.48,276.75L455.38,260.85M439.48,283.95L455.38,268.05M439.48,291.15L455.38,275.25M439.48,298.35L455.38,282.45M439.48,305.55L455.38,289.65M439.48,312.75L455.38,296.85M439.48,319.95L455.38,304.05M439.48,327.15L455.38,311.25M439.48,334.35L455.38,318.45M439.48,341.55L455.38,325.65M439.48,348.75L455.38,332.85M439.48,355.95L455.38,340.05M439.48,363.15L455.38,347.25M439.48,370.35L455.38,354.45M439.48,377.55L455.38,361.65M439.48,384.75L455.38,368.85M439.48,391.95L455.38,376.05M439.48,399.15L455.38,383.25M439.48,406.35L455.38,390.45M445.53,407.50L455.38,397.65M452.73,407.50L455.38,404.85M454.63,110.40L455.38,111.15M447.43,110.40L455.38,118.35M440.23,110.40L455.38,125.55M439.48,116.85L455.38,132.75M439.48,124.05L455.38,139.95M439.48,131.25L455.38,147.15M439.48,138.45L455.38,154.35M439.48,145.65L455.38,161.55M439.48,152.85L455.38,168.75M439.48,160.05L455.38,175.95M439.48,167.25L455.38,183.15M439.48,174.45L455.38,190.35M439.48,181.65L455.38,197.55M439.48,188.85L455.38,204.75M439.48,196.05L455.38,211.95M439.48,203.25L455.38,219.15M439.48,210.45L455.38,226.35M439.48,217.65L455.38,233.55M439.48,224.85L455.38,240.75M439.48,232.05L455.38,247.95M439.48,239.25L455.38,255.15M439.48,246.45L455.38,262.35M439.48,253.65L455.38,269.55M439.48,260.85L455.38,276.75M439.48,268.05L455.38,283.95M439.48,275.25L455.38,291.15M439.48,282.45L455.38,298.35M439.48,289.65L455.38,305.55M439.48,296.85L455.38,312.75M439.48,304.05L455.38,319.95M439.48,311.25L455.38,327.15M439.48,318.45L455.38,334.35M439.48,325.65L455.38,341.55M439.48,332.85L455.38,348.75M439.48,340.05L455.38,355.95M439.48,347.25L455.38,363.15M439.48,354.45L455.38,370.35M439.48,361.65L455.38,377.55M439.48,368.85L455.38,384.75M439.48,376.05L455.38,391.95M439.48,383.25L455.38,399.15M439.48,390.45L455.38,406.35M439.48,397.65L449.33,407.50M439.48,404.85L442.13,407.50" stroke="#000" stroke-width="0.95" fill="none"/>
<rect x="439.48" y="110.40" width="15.90" height="297.10" fill="none" stroke="#000" stroke-width="1.35"/>
<rect x="471.50" y="214.70" width="15.90" height="192.80" fill="#fff"/>
<rect x="471.50" y="214.70" width="15.90" height="192.80" fill="none" stroke="#000" stroke-width="1.35"/>
<rect x="487.40" y="167.30" width="15.90" height="240.20" fill="#fff"/>
<path d="M487.40,168.82L489.09,167.30M487.40,179.44L500.89,167.30M487.40,190.06L503.30,175.75M487.40,200.68L503.30,186.37M487.40,211.30L503.30,196.99M487.40,221.92L503.30,207.61M487.40,232.54L503.30,218.23M487.40,243.16L503.30,228.85M487.40,253.78L503.30,239.47M487.40,264.40L503.30,250.09M487.40,275.02L503.30,260.71M487.40,285.64L503.30,271.33M487.40,296.26L503.30,281.95M487.40,306.88L503.30,292.57M487.40,317.50L503.30,303.19M487.40,328.12L503.30,313.81M487.40,338.74L503.30,324.43M487.40,349.36L503.30,335.05M487.40,359.98L503.30,345.67M487.40,370.60L503.30,356.29M487.40,381.22L503.30,366.91M487.40,391.84L503.30,377.53M487.40,402.46L503.30,388.15M493.60,407.50L503.30,398.77" stroke="#000" stroke-width="1.1" fill="none"/>
<rect x="487.40" y="167.30" width="15.90" height="240.20" fill="none" stroke="#000" stroke-width="1.35"/>
<rect x="503.30" y="144.80" width="15.90" height="262.70" fill="#fff"/>
<path d="M518.04,144.80L519.20,145.96M513.03,144.80L519.20,150.97M508.01,144.80L519.20,155.99M503.30,145.10L519.20,161.00M503.30,150.12L519.20,166.02M503.30,155.13L519.20,171.03M503.30,160.15L519.20,176.05M503.30,165.16L519.20,181.06M503.30,170.18L519.20,186.08M503.30,175.19L519.20,191.09M503.30,180.21L519.20,196.11M503.30,185.22L519.20,201.12M503.30,190.24L519.20,206.14M503.30,195.25L519.20,211.15M503.30,200.27L519.20,216.17M503.30,205.28L519.20,221.18M503.30,210.30L519.20,226.20M503.30,215.31L519.20,231.21M503.30,220.33L519.20,236.23M503.30,225.34L519.20,241.24M503.30,230.36L519.20,246.26M503.30,235.37L519.20,251.27M503.30,240.39L519.20,256.29M503.30,245.40L519.20,261.30M503.30,250.42L519.20,266.32M503.30,255.43L519.20,271.33M503.30,260.45L519.20,276.35M503.30,265.46L519.20,281.36M503.30,270.48L519.20,286.38M503.30,275.49L519.20,291.39M503.30,280.50L519.20,296.41M503.30,285.52L519.20,301.42M503.30,290.54L519.20,306.44M503.30,295.55L519.20,311.45M503.30,300.57L519.20,316.47M503.30,305.58L519.20,321.48M503.30,310.60L519.20,326.50M503.30,315.61L519.20,331.51M503.30,320.62L519.20,336.53M503.30,325.64L519.20,341.54M503.30,330.65L519.20,346.56M503.30,335.67L519.20,351.57M503.30,340.69L519.20,356.59M503.30,345.70L519.20,361.60M503.30,350.72L519.20,366.62M503.30,355.73L519.20,371.63M503.30,360.75L519.20,376.65M503.30,365.76L519.20,381.66M503.30,370.77L519.20,386.68M503.30,375.79L519.20,391.69M503.30,380.81L519.20,396.71M503.30,385.82L519.20,401.72M503.30,390.84L519.20,406.74M503.30,395.85L514.95,407.50M503.30,400.87L509.94,407.50M503.30,405.88L504.92,407.50" stroke="#000" stroke-width="1.05" fill="none"/>
<rect x="503.30" y="144.80" width="15.90" height="262.70" fill="none" stroke="#000" stroke-width="1.35"/>
<rect x="519.20" y="108.40" width="15.90" height="299.10" fill="#fff"/>
<path d="M519.20,109.15L519.95,108.40M519.20,116.35L527.15,108.40M519.20,123.55L534.35,108.40M519.20,130.75L535.10,114.85M519.20,137.95L535.10,122.05M519.20,145.15L535.10,129.25M519.20,152.35L535.10,136.45M519.20,159.55L535.10,143.65M519.20,166.75L535.10,150.85M519.20,173.95L535.10,158.05M519.20,181.15L535.10,165.25M519.20,188.35L535.10,172.45M519.20,195.55L535.10,179.65M519.20,202.75L535.10,186.85M519.20,209.95L535.10,194.05M519.20,217.15L535.10,201.25M519.20,224.35L535.10,208.45M519.20,231.55L535.10,215.65M519.20,238.75L535.10,222.85M519.20,245.95L535.10,230.05M519.20,253.15L535.10,237.25M519.20,260.35L535.10,244.45M519.20,267.55L535.10,251.65M519.20,274.75L535.10,258.85M519.20,281.95L535.10,266.05M519.20,289.15L535.10,273.25M519.20,296.35L535.10,280.45M519.20,303.55L535.10,287.65M519.20,310.75L535.10,294.85M519.20,317.95L535.10,302.05M519.20,325.15L535.10,309.25M519.20,332.35L535.10,316.45M519.20,339.55L535.10,323.65M519.20,346.75L535.10,330.85M519.20,353.95L535.10,338.05M519.20,361.15L535.10,345.25M519.20,368.35L535.10,352.45M519.20,375.55L535.10,359.65M519.20,382.75L535.10,366.85M519.20,389.95L535.10,374.05M519.20,397.15L535.10,381.25M519.20,404.35L535.10,388.45M523.25,407.50L535.10,395.65M530.45,407.50L535.10,402.85M534.35,108.40L535.10,109.15M527.15,108.40L535.10,116.35M519.95,108.40L535.10,123.55M519.20,114.85L535.10,130.75M519.20,122.05L535.10,137.95M519.20,129.25L535.10,145.15M519.20,136.45L535.10,152.35M519.20,143.65L535.10,159.55M519.20,150.85L535.10,166.75M519.20,158.05L535.10,173.95M519.20,165.25L535.10,181.15M519.20,172.45L535.10,188.35M519.20,179.65L535.10,195.55M519.20,186.85L535.10,202.75M519.20,194.05L535.10,209.95M519.20,201.25L535.10,217.15M519.20,208.45L535.10,224.35M519.20,215.65L535.10,231.55M519.20,222.85L535.10,238.75M519.20,230.05L535.10,245.95M519.20,237.25L535.10,253.15M519.20,244.45L535.10,260.35M519.20,251.65L535.10,267.55M519.20,258.85L535.10,274.75M519.20,266.05L535.10,281.95M519.20,273.25L535.10,289.15M519.20,280.45L535.10,296.35M519.20,287.65L535.10,303.55M519.20,294.85L535.10,310.75M519.20,302.05L535.10,317.95M519.20,309.25L535.10,325.15M519.20,316.45L535.10,332.35M519.20,323.65L535.10,339.55M519.20,330.85L535.10,346.75M519.20,338.05L535.10,353.95M519.20,345.25L535.10,361.15M519.20,352.45L535.10,368.35M519.20,359.65L535.10,375.55M519.20,366.85L535.10,382.75M519.20,374.05L535.10,389.95M519.20,381.25L535.10,397.15M519.20,388.45L535.10,404.35M519.20,395.65L531.05,407.50M519.20,402.85L523.85,407.50" stroke="#000" stroke-opacity="0.35" stroke-width="1.8" fill="none"/>
<path d="M519.20,109.15L519.95,108.40M519.20,116.35L527.15,108.40M519.20,123.55L534.35,108.40M519.20,130.75L535.10,114.85M519.20,137.95L535.10,122.05M519.20,145.15L535.10,129.25M519.20,152.35L535.10,136.45M519.20,159.55L535.10,143.65M519.20,166.75L535.10,150.85M519.20,173.95L535.10,158.05M519.20,181.15L535.10,165.25M519.20,188.35L535.10,172.45M519.20,195.55L535.10,179.65M519.20,202.75L535.10,186.85M519.20,209.95L535.10,194.05M519.20,217.15L535.10,201.25M519.20,224.35L535.10,208.45M519.20,231.55L535.10,215.65M519.20,238.75L535.10,222.85M519.20,245.95L535.10,230.05M519.20,253.15L535.10,237.25M519.20,260.35L535.10,244.45M519.20,267.55L535.10,251.65M519.20,274.75L535.10,258.85M519.20,281.95L535.10,266.05M519.20,289.15L535.10,273.25M519.20,296.35L535.10,280.45M519.20,303.55L535.10,287.65M519.20,310.75L535.10,294.85M519.20,317.95L535.10,302.05M519.20,325.15L535.10,309.25M519.20,332.35L535.10,316.45M519.20,339.55L535.10,323.65M519.20,346.75L535.10,330.85M519.20,353.95L535.10,338.05M519.20,361.15L535.10,345.25M519.20,368.35L535.10,352.45M519.20,375.55L535.10,359.65M519.20,382.75L535.10,366.85M519.20,389.95L535.10,374.05M519.20,397.15L535.10,381.25M519.20,404.35L535.10,388.45M523.25,407.50L535.10,395.65M530.45,407.50L535.10,402.85M534.35,108.40L535.10,109.15M527.15,108.40L535.10,116.35M519.95,108.40L535.10,123.55M519.20,114.85L535.10,130.75M519.20,122.05L535.10,137.95M519.20,129.25L535.10,145.15M519.20,136.45L535.10,152.35M519.20,143.65L535.10,159.55M519.20,150.85L535.10,166.75M519.20,158.05L535.10,173.95M519.20,165.25L535.10,181.15M519.20,172.45L535.10,188.35M519.20,179.65L535.10,195.55M519.20,186.85L535.10,202.75M519.20,194.05L535.10,209.95M519.20,201.25L535.10,217.15M519.20,208.45L535.10,224.35M519.20,215.65L535.10,231.55M519.20,222.85L535.10,238.75M519.20,230.05L535.10,245.95M519.20,237.25L535.10,253.15M519.20,244.45L535.10,260.35M519.20,251.65L535.10,267.55M519.20,258.85L535.10,274.75M519.20,266.05L535.10,281.95M519.20,273.25L535.10,289.15M519.20,280.45L535.10,296.35M519.20,287.65L535.10,303.55M519.20,294.85L535.10,310.75M519.20,302.05L535.10,317.95M519.20,309.25L535.10,325.15M519.20,316.45L535.10,332.35M519.20,323.65L535.10,339.55M519.20,330.85L535.10,346.75M519.20,338.05L535.10,353.95M519.20,345.25L535.10,361.15M519.20,352.45L535.10,368.35M519.20,359.65L535.10,375.55M519.20,366.85L535.10,382.75M519.20,374.05L535.10,389.95M519.20,381.25L535.10,397.15M519.20,388.45L535.10,404.35M519.20,395.65L531.05,407.50M519.20,402.85L523.85,407.50" stroke="#000" stroke-width="0.95" fill="none"/>
<rect x="519.20" y="108.40" width="15.90" height="299.10" fill="none" stroke="#000" stroke-width="1.35"/>
<path d="M80.85,66.70V72.60M76.95,66.70H84.75M76.95,72.60H84.75" stroke="#222" stroke-width="1.0" fill="none"/>
<text x="81.45" y="64.80" font-size="17" text-anchor="middle">ab</text>
<path d="M96.75,66.80V77.00M92.85,66.80H100.65M92.85,77.00H100.65" stroke="#222" stroke-width="1.0" fill="none"/>
<text x="97.65" y="64.40" font-size="17" text-anchor="middle">b</text>
<path d="M112.65,49.80V63.40M108.75,49.80H116.55M108.75,63.40H116.55" stroke="#222" stroke-width="1.0" fill="none"/>
<text x="113.10" y="47.60" font-size="17" text-anchor="middle">a</text>
<path d="M128.55,55.30V63.90M124.65,55.30H132.45M124.65,63.90H132.45" stroke="#222" stroke-width="1.0" fill="none"/>
<text x="129.00" y="53.10" font-size="17" text-anchor="middle">ab</text>
<path d="M160.57,139.30V142.50M156.67,139.30H164.47M156.67,142.50H164.47" stroke="#222" stroke-width="1.0" fill="none"/>
<text x="161.35" y="135.40" font-size="17" text-anchor="middle">d</text>
<path d="M176.47,123.40V129.80M172.57,123.40H180.37M172.57,129.80H180.37" stroke="#222" stroke-width="1.0" fill="none"/>
<text x="177.60" y="120.50" font-size="17" text-anchor="middle">c</text>
<path d="M192.37,98.60V102.40M188.47,98.60H196.27M188.47,102.40H196.27" stroke="#222" stroke-width="1.0" fill="none"/>
<text x="192.95" y="96.20" font-size="17" text-anchor="middle">b</text>
<path d="M208.27,73.60V77.00M204.37,73.60H212.17M204.37,77.00H212.17" stroke="#222" stroke-width="1.0" fill="none"/>
<text x="209.00" y="68.90" font-size="17" text-anchor="middle">a</text>
<path d="M240.29,181.55V187.45M236.39,181.55H244.19M236.39,187.45H244.19" stroke="#222" stroke-width="1.0" fill="none"/>
<text x="240.95" y="175.60" font-size="17" text-anchor="middle">d</text>
<path d="M256.19,148.60V153.40M252.29,148.60H260.09M252.29,153.40H260.09" stroke="#222" stroke-width="1.0" fill="none"/>
<text x="256.75" y="143.50" font-size="17" text-anchor="middle">c</text>
<path d="M272.09,106.30V108.30M268.19,106.30H275.99M268.19,108.30H275.99" stroke="#222" stroke-width="1.0" fill="none"/>
<text x="272.95" y="102.30" font-size="17" text-anchor="middle">b</text>
<path d="M287.99,75.30V82.10M284.09,75.30H291.89M284.09,82.10H291.89" stroke="#222" stroke-width="1.0" fill="none"/>
<text x="288.70" y="71.40" font-size="17" text-anchor="middle">a</text>
<path d="M320.01,197.20V199.00M316.11,197.20H323.91M316.11,199.00H323.91" stroke="#222" stroke-width="1.0" fill="none"/>
<text x="320.15" y="192.50" font-size="17" text-anchor="middle">d</text>
<path d="M335.91,154.40V156.20M332.01,154.40H339.81M332.01,156.20H339.81" stroke="#222" stroke-width="1.0" fill="none"/>
<text x="336.65" y="149.70" font-size="17" text-anchor="middle">c</text>
<path d="M351.81,126.10V132.90M347.91,126.10H355.71M347.91,132.90H355.71" stroke="#222" stroke-width="1.0" fill="none"/>
<text x="353.40" y="123.00" font-size="17" text-anchor="middle">b</text>
<path d="M367.71,101.30V103.50M363.81,101.30H371.61M363.81,103.50H371.61" stroke="#222" stroke-width="1.0" fill="none"/>
<text x="367.85" y="95.60" font-size="17" text-anchor="middle">a</text>
<path d="M399.73,214.80V219.20M395.83,214.80H403.63M395.83,219.20H403.63" stroke="#222" stroke-width="1.0" fill="none"/>
<text x="400.05" y="211.30" font-size="17" text-anchor="middle">d</text>
<path d="M415.63,160.40V164.40M411.73,160.40H419.53M411.73,164.40H419.53" stroke="#222" stroke-width="1.0" fill="none"/>
<text x="415.80" y="157.20" font-size="17" text-anchor="middle">c</text>
<path d="M431.53,141.80V144.60M427.63,141.80H435.43M427.63,144.60H435.43" stroke="#222" stroke-width="1.0" fill="none"/>
<text x="432.30" y="140.10" font-size="17" text-anchor="middle">b</text>
<path d="M447.43,107.60V113.20M443.53,107.60H451.33M443.53,113.20H451.33" stroke="#222" stroke-width="1.0" fill="none"/>
<text x="447.85" y="104.10" font-size="17" text-anchor="middle">a</text>
<path d="M479.45,210.30V219.10M475.55,210.30H483.35M475.55,219.10H483.35" stroke="#222" stroke-width="1.0" fill="none"/>
<text x="480.05" y="205.10" font-size="17" text-anchor="middle">d</text>
<path d="M495.35,162.50V172.10M491.45,162.50H499.25M491.45,172.10H499.25" stroke="#222" stroke-width="1.0" fill="none"/>
<text x="496.65" y="158.60" font-size="17" text-anchor="middle">c</text>
<path d="M511.25,143.80V145.80M507.35,143.80H515.15M507.35,145.80H515.15" stroke="#222" stroke-width="1.0" fill="none"/>
<text x="512.90" y="142.70" font-size="17" text-anchor="middle">b</text>
<path d="M527.15,107.40V109.40M523.25,107.40H531.05M523.25,109.40H531.05" stroke="#222" stroke-width="1.0" fill="none"/>
<text x="527.00" y="102.50" font-size="17" text-anchor="middle">a</text>
<path d="M65.2,21.4V407.5H543.8" stroke="#000" stroke-width="1.8" fill="none"/>
<path d="M65.2,407.50H72.5" stroke="#000" stroke-width="1.45"/>
<text x="56.800000000000004" y="414.70" font-size="23" text-anchor="end">0</text>
<path d="M65.2,343.30H72.5" stroke="#000" stroke-width="1.45"/>
<text x="56.800000000000004" y="350.50" font-size="23" text-anchor="end">2</text>
<path d="M65.2,279.10H72.5" stroke="#000" stroke-width="1.45"/>
<text x="56.800000000000004" y="286.30" font-size="23" text-anchor="end">4</text>
<path d="M65.2,214.90H72.5" stroke="#000" stroke-width="1.45"/>
<text x="56.800000000000004" y="222.10" font-size="23" text-anchor="end">6</text>
<path d="M65.2,150.70H72.5" stroke="#000" stroke-width="1.45"/>
<text x="56.800000000000004" y="157.90" font-size="23" text-anchor="end">8</text>
<path d="M65.2,86.50H72.5" stroke="#000" stroke-width="1.45"/>
<text x="56.800000000000004" y="93.70" font-size="23" text-anchor="end">10</text>
<path d="M65.2,22.30H72.5" stroke="#000" stroke-width="1.8"/>
<text x="56.800000000000004" y="29.50" font-size="23" text-anchor="end">12</text>
<path d="M104.70,407.5V414.7" stroke="#000" stroke-width="1.8"/>
<text x="105.00" y="437.6" font-size="23.5" text-anchor="middle">0</text>
<path d="M184.42,407.5V414.7" stroke="#000" stroke-width="1.8"/>
<text x="184.72" y="437.6" font-size="23.5" text-anchor="middle">1</text>
<path d="M264.14,407.5V414.7" stroke="#000" stroke-width="1.8"/>
<text x="264.44" y="437.6" font-size="23.5" text-anchor="middle">3</text>
<path d="M343.86,407.5V414.7" stroke="#000" stroke-width="1.8"/>
<text x="344.16" y="437.6" font-size="23.5" text-anchor="middle">5</text>
<path d="M423.58,407.5V414.7" stroke="#000" stroke-width="1.8"/>
<text x="423.88" y="437.6" font-size="23.5" text-anchor="middle">7</text>
<path d="M503.30,407.5V414.7" stroke="#000" stroke-width="1.8"/>
<text x="503.60" y="437.6" font-size="23.5" text-anchor="middle">15</text>
<text x="304.6" y="462.6" font-size="25.3" text-anchor="middle" textLength="83.3" lengthAdjust="spacingAndGlyphs">Time (h)</text>
<text transform="translate(23.8,209.2) rotate(-90)" font-size="23.7" text-anchor="middle">Free sulfhydryl content (μmol/g protein)</text>
<rect x="418.6" y="6.70" width="36.00" height="17.00" fill="#fff"/>
<rect x="418.6" y="6.70" width="36.00" height="17.00" fill="none" stroke="#000" stroke-width="1.4"/>
<text x="459.5" y="20.90" font-size="16.2">SPI</text>
<rect x="418.6" y="27.15" width="36.00" height="17.00" fill="#fff"/>
<path d="M418.60,37.00L428.45,27.15M422.05,44.15L439.05,27.15M432.65,44.15L449.65,27.15M443.25,44.15L454.60,32.80M453.85,44.15L454.60,43.40" stroke="#000" stroke-width="1.0" fill="none"/>
<rect x="418.6" y="27.15" width="36.00" height="17.00" fill="none" stroke="#000" stroke-width="1.4"/>
<text x="459.5" y="41.35" font-size="16.2">SPI7-SC3</text>
<rect x="418.6" y="47.60" width="36.00" height="17.00" fill="#fff"/>
<path d="M450.70,47.60L454.60,51.46M445.60,47.60L454.60,56.51M440.50,47.60L454.60,61.56M435.40,47.60L452.57,64.60M430.30,47.60L447.47,64.60M425.20,47.60L442.37,64.60M420.10,47.60L437.27,64.60M418.60,51.16L432.17,64.60M418.60,56.21L427.07,64.60M418.60,61.26L421.97,64.60" stroke="#000" stroke-width="1.0" fill="none"/>
<rect x="418.6" y="47.60" width="36.00" height="17.00" fill="none" stroke="#000" stroke-width="1.4"/>
<text x="459.5" y="61.80" font-size="16.2">SPI5-SC5</text>
<rect x="418.6" y="68.05" width="36.00" height="17.00" fill="#fff"/>
<path d="M418.60,71.36L422.00,68.05M418.60,78.46L429.30,68.05M419.12,85.05L436.60,68.05M426.42,85.05L443.90,68.05M433.72,85.05L451.20,68.05M441.02,85.05L454.60,71.84M448.32,85.05L454.60,78.94M451.20,68.05L454.60,71.36M443.90,68.05L454.60,78.46M436.60,68.05L454.08,85.05M429.30,68.05L446.78,85.05M422.00,68.05L439.48,85.05M418.60,71.84L432.18,85.05M418.60,78.94L424.88,85.05" stroke="#000" stroke-opacity="0.3" stroke-width="1.6" fill="none"/>
<path d="M418.60,71.36L422.00,68.05M418.60,78.46L429.30,68.05M419.12,85.05L436.60,68.05M426.42,85.05L443.90,68.05M433.72,85.05L451.20,68.05M441.02,85.05L454.60,71.84M448.32,85.05L454.60,78.94M451.20,68.05L454.60,71.36M443.90,68.05L454.60,78.46M436.60,68.05L454.08,85.05M429.30,68.05L446.78,85.05M422.00,68.05L439.48,85.05M418.60,71.84L432.18,85.05M418.60,78.94L424.88,85.05" stroke="#000" stroke-width="0.8" fill="none"/>
<rect x="418.6" y="68.05" width="36.00" height="17.00" fill="none" stroke="#000" stroke-width="1.4"/>
<text x="459.5" y="82.25" font-size="16.2">SPI3-SC7</text>
</svg></body></html>
